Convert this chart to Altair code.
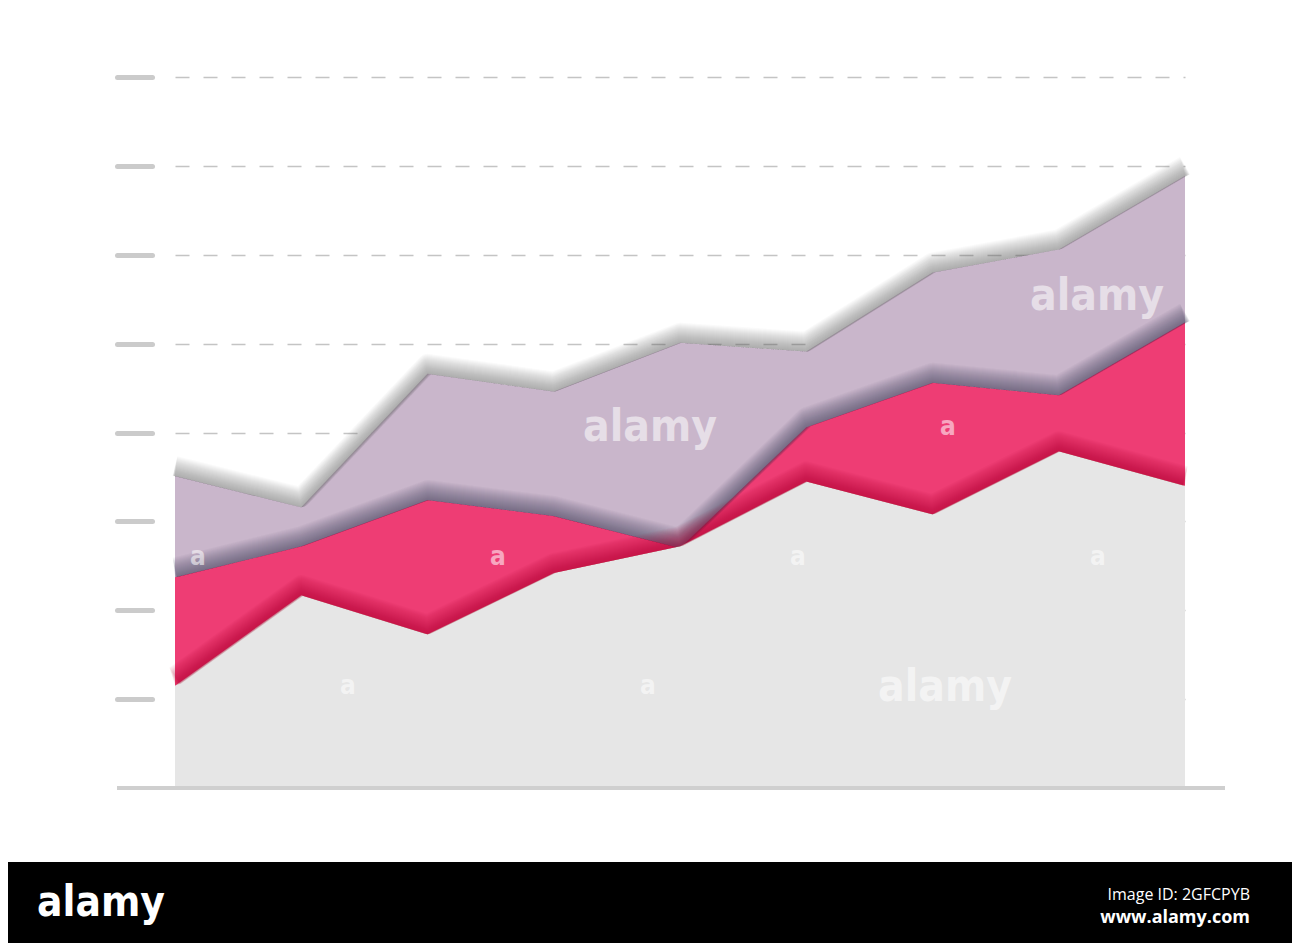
import altair as alt
import pandas as pd

# ---- data ----
x_idx = [0, 1, 2, 3, 4, 5, 6, 7, 8]
gray_vals = [1.15, 2.17, 1.73, 2.42, 2.72, 3.45, 3.08, 3.79, 3.40]
pink_vals = [2.37, 2.72, 3.24, 3.06, 2.70, 4.06, 4.56, 4.42, 5.24]
mauve_vals = [3.51, 3.16, 4.66, 4.46, 5.01, 4.91, 5.80, 6.06, 6.89]
y_ticks = [1, 2, 3, 4, 5, 6, 7, 8]

df = pd.DataFrame({"x": x_idx, "gray": gray_vals, "pink": pink_vals, "mauve": mauve_vals})

W, H = 1010, 711
xs = alt.Scale(domain=[0, 8], nice=False, zero=False)
ys = alt.Scale(domain=[0, 8], nice=False)
y_axis = alt.Axis(values=y_ticks, labels=False, domain=False, title=None,
                  offset=23, tickSize=35, tickWidth=5, tickCap="round",
                  tickColor="#cbcbcb", grid=True, gridColor="#c4c4c4",
                  gridDash=[14, 14], gridWidth=1.3)
x_enc = alt.X("x:Q", scale=xs, axis=None)

base = alt.Chart(df)

def area(col, color):
    return base.mark_area(color=color, opacity=1).encode(
        x=x_enc, y=alt.Y(f"{col}:Q", scale=ys, axis=y_axis))

def shadow(col, color, opac, n=20, step=1.0):
    layers = []
    for i in range(1, n + 1):
        layers.append(base.mark_line(color=color, opacity=opac, strokeWidth=step * i,
                                     yOffset=-step * i / 2, strokeJoin="round", strokeCap="butt").encode(
            x=x_enc, y=alt.Y(f"{col}:Q", scale=ys, axis=y_axis)))
    return layers

baseline = alt.Chart(pd.DataFrame({"v": [0]})).mark_rule(color="#cfcfcf", strokeWidth=4).encode(
    y=alt.Y("v:Q", scale=ys, axis=y_axis), x=alt.value(-58), x2=alt.value(1050))

WM_FONT = "'DejaVu Sans Condensed', 'Liberation Sans Narrow', 'Roboto', sans-serif"

# watermark overlay texts (pixel positions relative to plot origin)
wm = pd.DataFrame({
    "t": ["alamy", "alamy", "alamy", "a", "a", "a", "a", "a", "a", "a"],
    "px": [475, 922, 770, 23, 323, 623, 923, 173, 473, 773],
    "py": [351, 220, 611, 480, 480, 480, 480, 609, 609, 350],
    "s": [44, 44, 44, 26, 26, 26, 26, 26, 26, 26],
})
watermarks = alt.Chart(wm).mark_text(color="white", opacity=0.55, fontWeight="bold",
                                     font=WM_FONT, align="center",
                                     baseline="middle").encode(
    x=alt.X("px:Q", scale=None), y=alt.Y("py:Q", scale=None), text="t:N",
    size=alt.Size("s:Q", scale=None, legend=None))

band = alt.Chart(pd.DataFrame({"v": [0]})).mark_rect(color="black").encode(
    x=alt.value(-175), x2=alt.value(1125), y=alt.value(785), y2=alt.value(874))
band_logo = alt.Chart(pd.DataFrame({"t": ["alamy"]})).mark_text(
    color="white", fontSize=42, fontWeight="bold", font=WM_FONT,
    align="center", baseline="middle").encode(x=alt.value(-74), y=alt.value(826), text="t:N")
band_id = alt.Chart(pd.DataFrame({"t": ["Image ID: 2GFCPYB"]})).mark_text(
    color="white", fontSize=16, font="Open Sans", align="right", baseline="middle").encode(
    x=alt.value(1075), y=alt.value(818), text="t:N")
band_url = alt.Chart(pd.DataFrame({"t": ["www.alamy.com"]})).mark_text(
    color="white", fontSize=18, fontWeight="bold", font="Open Sans", align="right",
    baseline="middle").encode(x=alt.value(1075), y=alt.value(841), text="t:N")

layers = [area("mauve", "#c9b6cb")] + shadow("mauve", "#505058", 0.03) + \
         [area("pink", "#ee3d74")] + shadow("pink", "#404060", 0.035) + \
         [area("gray", "#e6e6e6")] + shadow("gray", "#b8002e", 0.04) + \
         [baseline, watermarks, band, band_logo, band_id, band_url]

chart = alt.layer(*layers).properties(
    width=W, height=H,
    autosize=alt.AutoSizeParams(type="none"),
    padding={"left": 167, "top": 69, "right": 107, "bottom": 155},
    background="white",
).configure_view(stroke=None)

chart.save("out.html", embed_options={"renderer": "svg", "actions": False})
